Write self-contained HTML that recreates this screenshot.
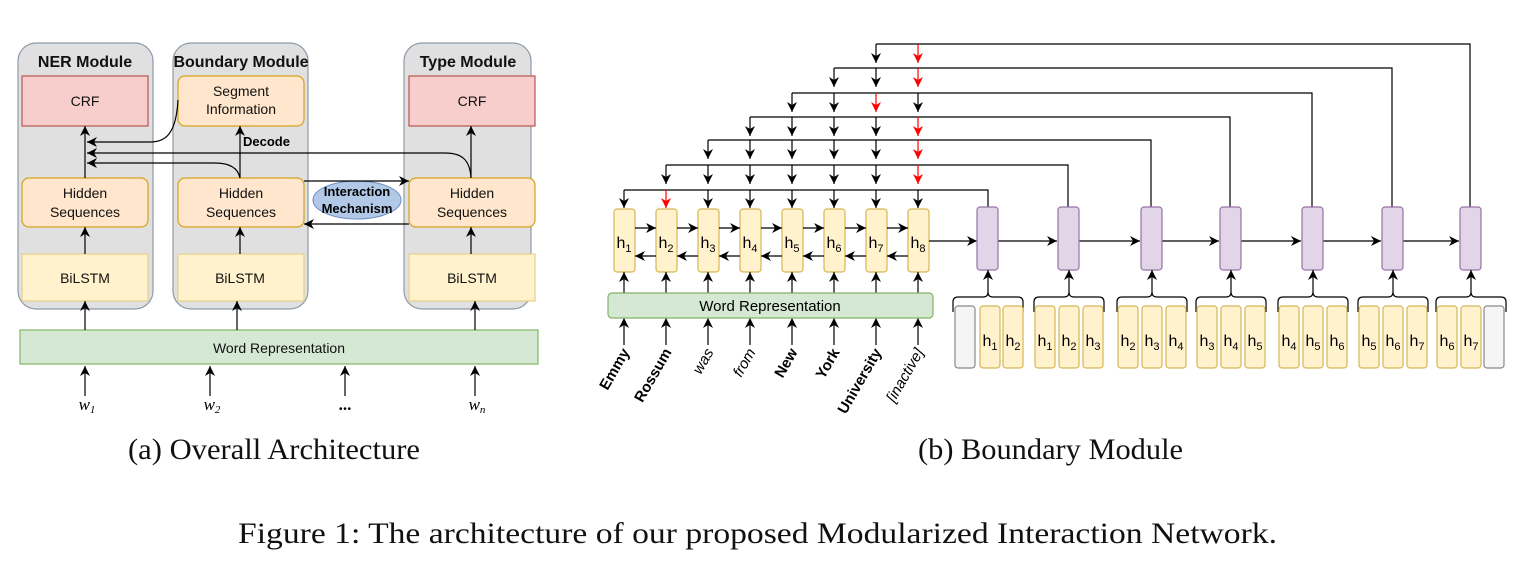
<!DOCTYPE html>
<html><head><meta charset="utf-8"><style>
body{margin:0;background:#fff;}
svg{display:block;font-family:"Liberation Sans",sans-serif;}
.ser{font-family:"Liberation Serif",serif;}
</style></head><body>
<svg width="1521" height="563" viewBox="0 0 1521 563" xmlns="http://www.w3.org/2000/svg">
<defs>
<marker id="b" viewBox="0 0 10 10" refX="10" refY="5" markerWidth="10" markerHeight="10" markerUnits="userSpaceOnUse" orient="auto"><path d="M0,0 L10,5 L0,10 L3,5 z" fill="#000"/></marker>
<marker id="r" viewBox="0 0 10 10" refX="10" refY="5" markerWidth="10" markerHeight="10" markerUnits="userSpaceOnUse" orient="auto"><path d="M0,0 L10,5 L0,10 L3,5 z" fill="#f00"/></marker>
</defs>

<!-- (a) -->
<g stroke="#8c9aa8" stroke-width="1.2" fill="#e0e0e0">
<rect x="18" y="43" width="135" height="266" rx="18"/>
<rect x="173" y="43" width="135" height="266" rx="18"/>
<rect x="404" y="43" width="127" height="266" rx="18"/>
</g>
<g font-weight="bold" font-size="16" text-anchor="middle" fill="#111">
<text x="85" y="67">NER Module</text>
<text x="241" y="67">Boundary Module</text>
<text x="468" y="67">Type Module</text>
</g>
<g stroke-width="1.2">
<rect x="22" y="76" width="126" height="50" fill="#f8cecc" stroke="#b85450"/>
<rect x="409" y="76" width="126" height="50" fill="#f8cecc" stroke="#b85450"/>
<rect x="178" y="76" width="126" height="50" rx="7" fill="#ffe6cc" stroke="#d6a21e"/>
<rect x="22" y="178" width="126" height="49" rx="7" fill="#ffe6cc" stroke="#d6a21e"/>
<rect x="178" y="178" width="126" height="49" rx="7" fill="#ffe6cc" stroke="#d6a21e"/>
<rect x="409" y="178" width="126" height="49" rx="7" fill="#ffe6cc" stroke="#d6a21e"/>
<rect x="22" y="254" width="126" height="47" fill="#fff2cc" stroke="#e6cf8a"/>
<rect x="178" y="254" width="126" height="47" fill="#fff2cc" stroke="#e6cf8a"/>
<rect x="409" y="254" width="126" height="47" fill="#fff2cc" stroke="#e6cf8a"/>
<rect x="20" y="330" width="518" height="34" fill="#d5e8d4" stroke="#82b366"/>
</g>
<g font-size="14" text-anchor="middle" fill="#111">
<text x="85" y="106">CRF</text><text x="472" y="106">CRF</text>
<text x="241" y="96">Segment</text><text x="241" y="114">Information</text>
<text x="85" y="198">Hidden</text><text x="85" y="217">Sequences</text>
<text x="241" y="198">Hidden</text><text x="241" y="217">Sequences</text>
<text x="472" y="198">Hidden</text><text x="472" y="217">Sequences</text>
<text x="85" y="283">BiLSTM</text><text x="240" y="283">BiLSTM</text><text x="472" y="283">BiLSTM</text>
<text x="279" y="353">Word Representation</text>
</g>
<text x="243" y="146" font-size="13" font-weight="bold">Decode</text>
<ellipse cx="357" cy="200" rx="44" ry="19" fill="#b1c9e6" stroke="#6c8ebf" stroke-width="1"/>
<text x="357" y="196" font-size="13" font-weight="bold" text-anchor="middle">Interaction</text>
<text x="357" y="213" font-size="13" font-weight="bold" text-anchor="middle">Mechanism</text>
<g stroke="#000" stroke-width="1.2" fill="none" marker-end="url(#b)">
<path d="M85,178 V126"/>
<path d="M240,178 V126"/>
<path d="M471,178 V126"/>
<path d="M85,254 V227"/><path d="M240,254 V227"/><path d="M471,254 V227"/>
<path d="M85,330 V301"/><path d="M237,330 V301"/><path d="M475,330 V301"/>
<path d="M178,100 C176,135 165,142 150,142 H87"/>
<path d="M471,178 C470,160 462,153 445,153 H87"/>
<path d="M240,178 C238,168 230,163 215,163 H87"/>
<path d="M304,181 H409"/>
<path d="M409,224 H304"/>
<path d="M85,396 V366"/><path d="M210,396 V366"/><path d="M345,396 V366"/><path d="M475,396 V366"/>
</g>
<g font-size="17" font-style="italic" text-anchor="middle">
<text x="87" y="410" class="ser">w<tspan font-size="11" dy="3">1</tspan></text>
<text x="212" y="410" class="ser">w<tspan font-size="11" dy="3">2</tspan></text>
<text x="345" y="410" class="ser" font-style="normal" font-weight="bold">...</text>
<text x="477" y="410" class="ser">w<tspan font-size="11" dy="3">n</tspan></text>
</g>

<!-- (b) top lines -->
<g stroke="#000" stroke-width="1.2" fill="none">
<path d="M624,190 H988 V208"/>
<path d="M666,165 H1068 V208"/>
<path d="M708,140 H1151 V208"/>
<path d="M750,117 H1230 V208"/>
<path d="M792,93 H1312 V208"/>
<path d="M834,68 H1392 V208"/>
<path d="M876,44 H1470 V208"/>
</g>
<g stroke-width="1.2" fill="none">
<path d="M624,190 V208" stroke="#000" marker-end="url(#b)"/>
<path d="M666,165 V184" stroke="#000" marker-end="url(#b)"/>
<path d="M666,190 V208" stroke="#f00" marker-end="url(#r)"/>
<path d="M708,140 V159" stroke="#000" marker-end="url(#b)"/>
<path d="M708,165 V184" stroke="#000" marker-end="url(#b)"/>
<path d="M708,190 V208" stroke="#000" marker-end="url(#b)"/>
<path d="M750,117 V136" stroke="#000" marker-end="url(#b)"/>
<path d="M750,140 V159" stroke="#000" marker-end="url(#b)"/>
<path d="M750,165 V184" stroke="#000" marker-end="url(#b)"/>
<path d="M750,190 V208" stroke="#000" marker-end="url(#b)"/>
<path d="M792,93 V112" stroke="#000" marker-end="url(#b)"/>
<path d="M792,117 V136" stroke="#000" marker-end="url(#b)"/>
<path d="M792,140 V159" stroke="#000" marker-end="url(#b)"/>
<path d="M792,165 V184" stroke="#000" marker-end="url(#b)"/>
<path d="M792,190 V208" stroke="#000" marker-end="url(#b)"/>
<path d="M834,68 V87" stroke="#000" marker-end="url(#b)"/>
<path d="M834,93 V112" stroke="#000" marker-end="url(#b)"/>
<path d="M834,117 V136" stroke="#000" marker-end="url(#b)"/>
<path d="M834,140 V159" stroke="#000" marker-end="url(#b)"/>
<path d="M834,165 V184" stroke="#000" marker-end="url(#b)"/>
<path d="M834,190 V208" stroke="#000" marker-end="url(#b)"/>
<path d="M876,44 V63" stroke="#000" marker-end="url(#b)"/>
<path d="M876,68 V87" stroke="#000" marker-end="url(#b)"/>
<path d="M876,93 V112" stroke="#f00" marker-end="url(#r)"/>
<path d="M876,117 V136" stroke="#000" marker-end="url(#b)"/>
<path d="M876,140 V159" stroke="#000" marker-end="url(#b)"/>
<path d="M876,165 V184" stroke="#000" marker-end="url(#b)"/>
<path d="M876,190 V208" stroke="#000" marker-end="url(#b)"/>
<path d="M918,44 V63" stroke="#f00" marker-end="url(#r)"/>
<path d="M918,68 V87" stroke="#f00" marker-end="url(#r)"/>
<path d="M918,93 V112" stroke="#000" marker-end="url(#b)"/>
<path d="M918,117 V136" stroke="#f00" marker-end="url(#r)"/>
<path d="M918,140 V159" stroke="#f00" marker-end="url(#r)"/>
<path d="M918,165 V184" stroke="#f00" marker-end="url(#r)"/>
<path d="M918,190 V208" stroke="#000" marker-end="url(#b)"/>
</g>

<g fill="#fff2cc" stroke="#d6b656" stroke-width="1.2">
<rect x="614" y="209" width="21" height="63" rx="3"/>
<rect x="656" y="209" width="21" height="63" rx="3"/>
<rect x="698" y="209" width="21" height="63" rx="3"/>
<rect x="740" y="209" width="21" height="63" rx="3"/>
<rect x="782" y="209" width="21" height="63" rx="3"/>
<rect x="824" y="209" width="21" height="63" rx="3"/>
<rect x="866" y="209" width="21" height="63" rx="3"/>
<rect x="908" y="209" width="21" height="63" rx="3"/>
</g>
<g font-size="16" text-anchor="middle">
<text x="624" y="248">h<tspan font-size="11" dy="4">1</tspan></text>
<text x="666" y="248">h<tspan font-size="11" dy="4">2</tspan></text>
<text x="708" y="248">h<tspan font-size="11" dy="4">3</tspan></text>
<text x="750" y="248">h<tspan font-size="11" dy="4">4</tspan></text>
<text x="792" y="248">h<tspan font-size="11" dy="4">5</tspan></text>
<text x="834" y="248">h<tspan font-size="11" dy="4">6</tspan></text>
<text x="876" y="248">h<tspan font-size="11" dy="4">7</tspan></text>
<text x="918" y="248">h<tspan font-size="11" dy="4">8</tspan></text>
</g>
<g stroke="#000" stroke-width="1.2" fill="none" marker-end="url(#b)">
<path d="M635,228 H656"/><path d="M677,228 H698"/><path d="M719,228 H740"/><path d="M761,228 H782"/><path d="M803,228 H824"/><path d="M845,228 H866"/><path d="M887,228 H908"/>
<path d="M656,256 H635"/><path d="M698,256 H677"/><path d="M740,256 H719"/><path d="M782,256 H761"/><path d="M824,256 H803"/><path d="M866,256 H845"/><path d="M908,256 H887"/>
<path d="M929,241 H977"/>
<path d="M998,241 H1057"/><path d="M1079,241 H1140"/><path d="M1162,241 H1219"/><path d="M1241,241 H1301"/><path d="M1323,241 H1381"/><path d="M1403,241 H1459"/>
<path d="M624,293 V272"/><path d="M666,293 V272"/><path d="M708,293 V272"/><path d="M750,293 V272"/><path d="M792,293 V272"/><path d="M834,293 V272"/><path d="M876,293 V272"/><path d="M918,293 V272"/>
<path d="M624,345 V318"/><path d="M666,345 V318"/><path d="M708,345 V318"/><path d="M750,345 V318"/><path d="M792,345 V318"/><path d="M834,345 V318"/><path d="M876,345 V318"/><path d="M918,345 V318"/>
</g>
<rect x="608" y="293" width="325" height="25" rx="4" fill="#d5e8d4" stroke="#82b366" stroke-width="1.2"/>
<text x="770" y="311" font-size="15" text-anchor="middle">Word Representation</text>
<g font-size="15" text-anchor="end">
<text transform="translate(630,352) rotate(-60)" font-weight="bold">Emmy</text>
<text transform="translate(672,352) rotate(-60)" font-weight="bold">Rossum</text>
<text transform="translate(714,352) rotate(-60)" font-style="italic">was</text>
<text transform="translate(756,352) rotate(-60)" font-style="italic">from</text>
<text transform="translate(798,352) rotate(-60)" font-weight="bold">New</text>
<text transform="translate(840,352) rotate(-60)" font-weight="bold">York</text>
<text transform="translate(882,352) rotate(-60)" font-weight="bold">University</text>
<text transform="translate(924,352) rotate(-60)" font-style="italic">[inactive]</text>
</g>

<g fill="#e1d5e7" stroke="#9673a6" stroke-width="1.2">
<rect x="977" y="207" width="21" height="63" rx="3"/>
<rect x="1058" y="207" width="21" height="63" rx="3"/>
<rect x="1141" y="207" width="21" height="63" rx="3"/>
<rect x="1220" y="207" width="21" height="63" rx="3"/>
<rect x="1302" y="207" width="21" height="63" rx="3"/>
<rect x="1382" y="207" width="21" height="63" rx="3"/>
<rect x="1460" y="207" width="21" height="63" rx="3"/>
</g>
<g stroke="#000" stroke-width="1.2" fill="none">
<path d="M953,312 V302 Q953,297 958,297 H983 Q988,297 988,292 Q988,297 993,297 H1018 Q1023,297 1023,302 V312"/>
<path d="M1034,312 V302 Q1034,297 1039,297 H1064 Q1069,297 1069,292 Q1069,297 1074,297 H1099 Q1104,297 1104,302 V312"/>
<path d="M1117,312 V302 Q1117,297 1122,297 H1147 Q1152,297 1152,292 Q1152,297 1157,297 H1182 Q1187,297 1187,302 V312"/>
<path d="M1196,312 V302 Q1196,297 1201,297 H1226 Q1231,297 1231,292 Q1231,297 1236,297 H1261 Q1266,297 1266,302 V312"/>
<path d="M1278,312 V302 Q1278,297 1283,297 H1308 Q1313,297 1313,292 Q1313,297 1318,297 H1343 Q1348,297 1348,302 V312"/>
<path d="M1358,312 V302 Q1358,297 1363,297 H1388 Q1393,297 1393,292 Q1393,297 1398,297 H1423 Q1428,297 1428,302 V312"/>
<path d="M1436,312 V302 Q1436,297 1441,297 H1466 Q1471,297 1471,292 Q1471,297 1476,297 H1501 Q1506,297 1506,302 V312"/>
</g>
<g stroke="#000" stroke-width="1.2" marker-end="url(#b)">
<path d="M988,292 V270"/><path d="M1069,292 V270"/><path d="M1152,292 V270"/><path d="M1231,292 V270"/><path d="M1313,292 V270"/><path d="M1393,292 V270"/><path d="M1471,292 V270"/>
</g>
<g stroke-width="1.2">
<rect x="955" y="306" width="20" height="62" rx="3" fill="#f5f5f5" stroke="#888"/>
<rect x="1484" y="306" width="20" height="62" rx="3" fill="#f5f5f5" stroke="#888"/>
<g fill="#fff2cc" stroke="#d6b656">
<rect x="980" y="306" width="20" height="62" rx="3"/><rect x="1003" y="306" width="20" height="62" rx="3"/>
<rect x="1035" y="306" width="20" height="62" rx="3"/><rect x="1059" y="306" width="20" height="62" rx="3"/><rect x="1083" y="306" width="20" height="62" rx="3"/>
<rect x="1118" y="306" width="20" height="62" rx="3"/><rect x="1142" y="306" width="20" height="62" rx="3"/><rect x="1166" y="306" width="20" height="62" rx="3"/>
<rect x="1197" y="306" width="20" height="62" rx="3"/><rect x="1221" y="306" width="20" height="62" rx="3"/><rect x="1245" y="306" width="20" height="62" rx="3"/>
<rect x="1279" y="306" width="20" height="62" rx="3"/><rect x="1303" y="306" width="20" height="62" rx="3"/><rect x="1327" y="306" width="20" height="62" rx="3"/>
<rect x="1359" y="306" width="20" height="62" rx="3"/><rect x="1383" y="306" width="20" height="62" rx="3"/><rect x="1407" y="306" width="20" height="62" rx="3"/>
<rect x="1437" y="306" width="20" height="62" rx="3"/><rect x="1461" y="306" width="20" height="62" rx="3"/>
</g></g>
<g font-size="16" text-anchor="middle">
<text x="990" y="346">h<tspan font-size="11" dy="4">1</tspan></text><text x="1013" y="346">h<tspan font-size="11" dy="4">2</tspan></text>
<text x="1045" y="346">h<tspan font-size="11" dy="4">1</tspan></text><text x="1069" y="346">h<tspan font-size="11" dy="4">2</tspan></text><text x="1093" y="346">h<tspan font-size="11" dy="4">3</tspan></text>
<text x="1128" y="346">h<tspan font-size="11" dy="4">2</tspan></text><text x="1152" y="346">h<tspan font-size="11" dy="4">3</tspan></text><text x="1176" y="346">h<tspan font-size="11" dy="4">4</tspan></text>
<text x="1207" y="346">h<tspan font-size="11" dy="4">3</tspan></text><text x="1231" y="346">h<tspan font-size="11" dy="4">4</tspan></text><text x="1255" y="346">h<tspan font-size="11" dy="4">5</tspan></text>
<text x="1289" y="346">h<tspan font-size="11" dy="4">4</tspan></text><text x="1313" y="346">h<tspan font-size="11" dy="4">5</tspan></text><text x="1337" y="346">h<tspan font-size="11" dy="4">6</tspan></text>
<text x="1369" y="346">h<tspan font-size="11" dy="4">5</tspan></text><text x="1393" y="346">h<tspan font-size="11" dy="4">6</tspan></text><text x="1417" y="346">h<tspan font-size="11" dy="4">7</tspan></text>
<text x="1447" y="346">h<tspan font-size="11" dy="4">6</tspan></text><text x="1471" y="346">h<tspan font-size="11" dy="4">7</tspan></text>
</g>

<g font-size="30" fill="#111">
<text x="128" y="459" class="ser" textLength="292" lengthAdjust="spacingAndGlyphs">(a)  Overall Architecture</text>
<text x="918" y="459" class="ser" textLength="265" lengthAdjust="spacingAndGlyphs">(b)  Boundary Module</text>
<text x="238" y="543" class="ser" textLength="1039" lengthAdjust="spacingAndGlyphs">Figure 1: The architecture of our proposed Modularized Interaction Network.</text>
</g>
</svg>
</body></html>
